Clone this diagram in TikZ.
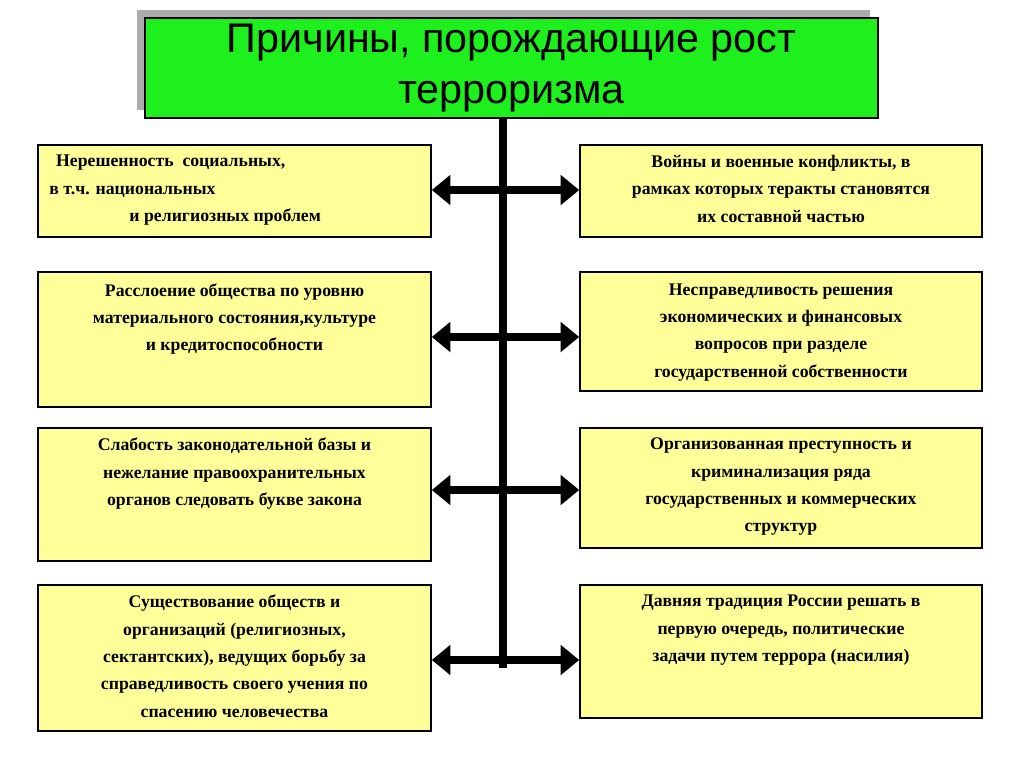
\documentclass[tikz,border=0pt]{standalone}
\usepackage{fontspec}
\setmainfont{Liberation Serif}
\newfontfamily\titlefont{Liberation Sans}
\usetikzlibrary{arrows.meta,positioning}
\definecolor{boxyellow}{RGB}{255,255,153}
\definecolor{titlegreen}{RGB}{30,240,30}

\begin{document}
\begin{tikzpicture}[
    x=0.75pt, y=-0.75pt,
    cbox/.style={rectangle, draw, line width=1.2pt, fill=boxyellow, inner sep=0pt},
    ctext/.style={anchor=north, inner sep=0pt, align=center, font=\bfseries\fontsize{13.3}{20.5}\selectfont},
    arr/.style={{Triangle[length=14pt,width=22pt]}-{Triangle[length=14pt,width=22pt]}, line width=6pt}
]
\useasboundingbox (0,0) rectangle (1024,768);

% title
\fill[gray!65] (137,10) rectangle (870,110);
\node[draw, line width=1.2pt, fill=titlegreen, minimum width=549.75pt, minimum height=75pt, align=center,
      font=\titlefont\fontsize{31}{38}\selectfont] (title) at (511.5,68) {Причины, порождающие рост\\терроризма};

% left column
\node[cbox, minimum width=294.75pt, minimum height=69pt] (l1) at (234.5,191) {};
\node[cbox, minimum width=294.75pt, minimum height=101.25pt] (l2) at (234.5,339.5) {};
\node[cbox, minimum width=294.75pt, minimum height=99.75pt] (l3) at (234.5,494.5) {};
\node[cbox, minimum width=294.75pt, minimum height=109.5pt] (l4) at (234.5,658) {};

% right column
\node[cbox, minimum width=301.5pt, minimum height=69pt] (r1) at (781,191) {};
\node[cbox, minimum width=301.5pt, minimum height=89.25pt] (r2) at (781,331.5) {};
\node[cbox, minimum width=301.5pt, minimum height=90pt] (r3) at (781,488) {};
\node[cbox, minimum width=301.5pt, minimum height=99.75pt] (r4) at (781,651.5) {};

\node[ctext, align=left, anchor=north west] at ([xshift=9pt,yshift=-8pt]l1.north west) {\hspace*{5pt}Нерешенность\ \ социальных,\\в т.ч. национальных\\\hspace*{60pt}и религиозных проблем};
\node[ctext, below=9pt of l2.north] {Расслоение общества по уровню\\материального состояния,культуре\\и кредитоспособности};
\node[ctext, below=8pt of l3.north] {Слабость законодательной базы и\\нежелание правоохранительных\\органов следовать букве закона};
\node[ctext, below=8pt of l4.north] {Существование обществ и\\организаций (религиозных,\\сектантских), ведущих борьбу за\\справедливость своего учения по\\спасению человечества};

\node[ctext, below=8pt of r1.north] {Войны и военные конфликты, в\\рамках которых теракты становятся\\их составной частью};
\node[ctext, below=9pt of r2.north] {Несправедливость решения\\экономических и финансовых\\вопросов при разделе\\государственной собственности};
\node[ctext, below=8pt of r3.north] {Организованная преступность и\\криминализация ряда\\государственных и коммерческих\\структур};
\node[ctext, below=8pt of r4.north] {Давняя традиция России решать в\\первую очередь, политические\\задачи путем террора (насилия)};

% spine
\coordinate (top) at (503,118);
\coordinate (bot) at (503,668);
\draw[line width=6pt] (top) -- (bot);

\draw[arr] (l1.east |- 0,190) -- (r1.west |- 0,190);
\draw[arr] (l2.east |- 0,337) -- (r2.west |- 0,337);
\draw[arr] (l3.east |- 0,490) -- (r3.west |- 0,490);
\draw[arr] (l4.east |- 0,660) -- (r4.west |- 0,660);
\end{tikzpicture}
\end{document}
